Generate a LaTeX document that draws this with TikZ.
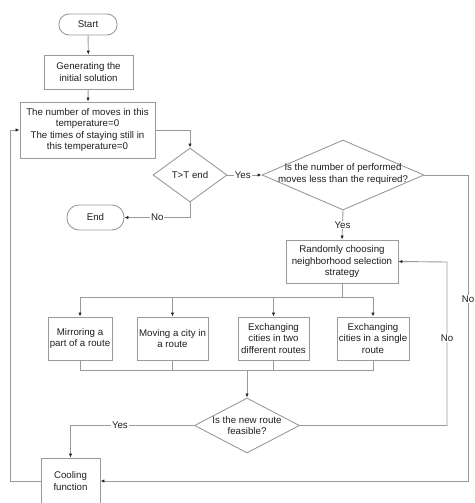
\documentclass[tikz,border=0pt]{standalone}
\usepackage{fontspec}
\setmainfont{Liberation Sans}
\usetikzlibrary{arrows.meta,shapes.geometric}
\definecolor{ln}{HTML}{9A9A9A}
\definecolor{tx}{HTML}{1E1E1E}
\begin{document}
\begin{tikzpicture}[x=1pt,y=-1pt,
  every node/.style={font=\fontsize{9.7}{11.3}\selectfont,text=tx},
  box/.style={draw=ln,line width=0.9pt,rectangle,align=center,inner sep=1pt},
  term/.style={draw=ln,line width=0.9pt,rectangle,rounded corners=10pt,align=center,inner sep=1pt},
  dia/.style={draw=ln,line width=0.9pt,diamond,inner sep=0pt},
  conn/.style={draw=ln,line width=0.9pt},
  arr/.style={conn,-{Latex[length=4pt,width=3.4pt,color=black!85]}},
  lbl/.style={fill=white,inner sep=1pt}]
\useasboundingbox (0,0) rectangle (474,503);
% nodes
\node[term,minimum width=58pt,minimum height=21pt] (start) at (88,24.5) {Start};
\node[box,minimum width=89pt,minimum height=34pt] (gen) at (88.5,72) {Generating the\\initial solution};
\node[box,minimum width=135pt,minimum height=56pt] (init) at (87.5,130) {The number of moves in this\\temperature=0\\The times of staying still in\\this temperature=0};
\node[dia,minimum width=74pt,minimum height=54pt] (tend) at (190,175) {};
\node at (tend) {T>T end};
\node[dia,minimum width=162pt,minimum height=70pt] (bigd) at (343,175) {};
\node[align=center] at (343,174) {Is the number of performed\\moves less than the required?};
\node[term,minimum width=57pt,minimum height=25pt,rounded corners=12pt] (end) at (95.5,217.5) {End};
\node[box,minimum width=112pt,minimum height=43pt] (rand) at (342,261.5) {Randomly choosing\\neighborhood selection\\strategy};
\node[box,minimum width=64pt,minimum height=43pt] (b1) at (80,338.5) {Mirroring a\\part of a route};
\node[box,minimum width=71pt,minimum height=43pt] (b2) at (172.5,338.5) {Moving a city in\\a route};
\node[box,minimum width=71pt,minimum height=43pt] (b3) at (273.5,338.5) {Exchanging\\cities in two\\different routes};
\node[box,minimum width=72pt,minimum height=43pt] (b4) at (373,338.5) {Exchanging\\cities in a single\\route};
\node[dia,minimum width=105pt,minimum height=55pt] (feas) at (247,425.5) {};
\node[align=center] at (247,425.5) {Is the new route\\feasible?};
\node[box,minimum width=59pt,minimum height=46pt] (cool) at (70.5,481) {Cooling\\function};
% coordinates
\coordinate (rc) at (468,481);
\coordinate (sp) at (342,297);
\coordinate (mg) at (247,370);
\coordinate (fc) at (447,262);
\coordinate (lc) at (10,481);
% connectors
\draw[arr] (start) -- (gen);
\draw[arr] (gen) -- (init);
\draw[arr] (init.east) -| (tend.north);
\draw[arr] (tend.east) -- node[lbl,pos=0.45] {Yes} (bigd.west);
\draw[arr] (tend.south) |- node[lbl,pos=0.75] {No} (end.east);
\draw[arr] (bigd.south) -- node[lbl,pos=0.5] {Yes} (rand.north);
\draw[arr] (bigd.east) -| (rc) -- (cool.east);
\node[lbl] at (468,299) {No};
\draw[conn] (rand.south) -- (sp);
\draw[arr] (sp) -| (b1.north);
\draw[arr] (sp) -| (b2.north);
\draw[arr] (sp) -| (b3.north);
\draw[arr] (sp) -| (b4.north);
\draw[conn] (b1.south) |- (mg);
\draw[conn] (b2.south) |- (mg);
\draw[conn] (b3.south) |- (mg);
\draw[conn] (b4.south) |- (mg);
\draw[arr] (mg) -- (feas.north);
\draw[arr] (feas.west) -| node[lbl,pos=0.3] {Yes} (cool.north);
\draw[arr] (feas.east) -| (fc) -- (rand.east);
\node[lbl] at (447,338) {No};
\draw[arr] (cool.west) -- (lc) |- (init.west);
\end{tikzpicture}
\end{document}
